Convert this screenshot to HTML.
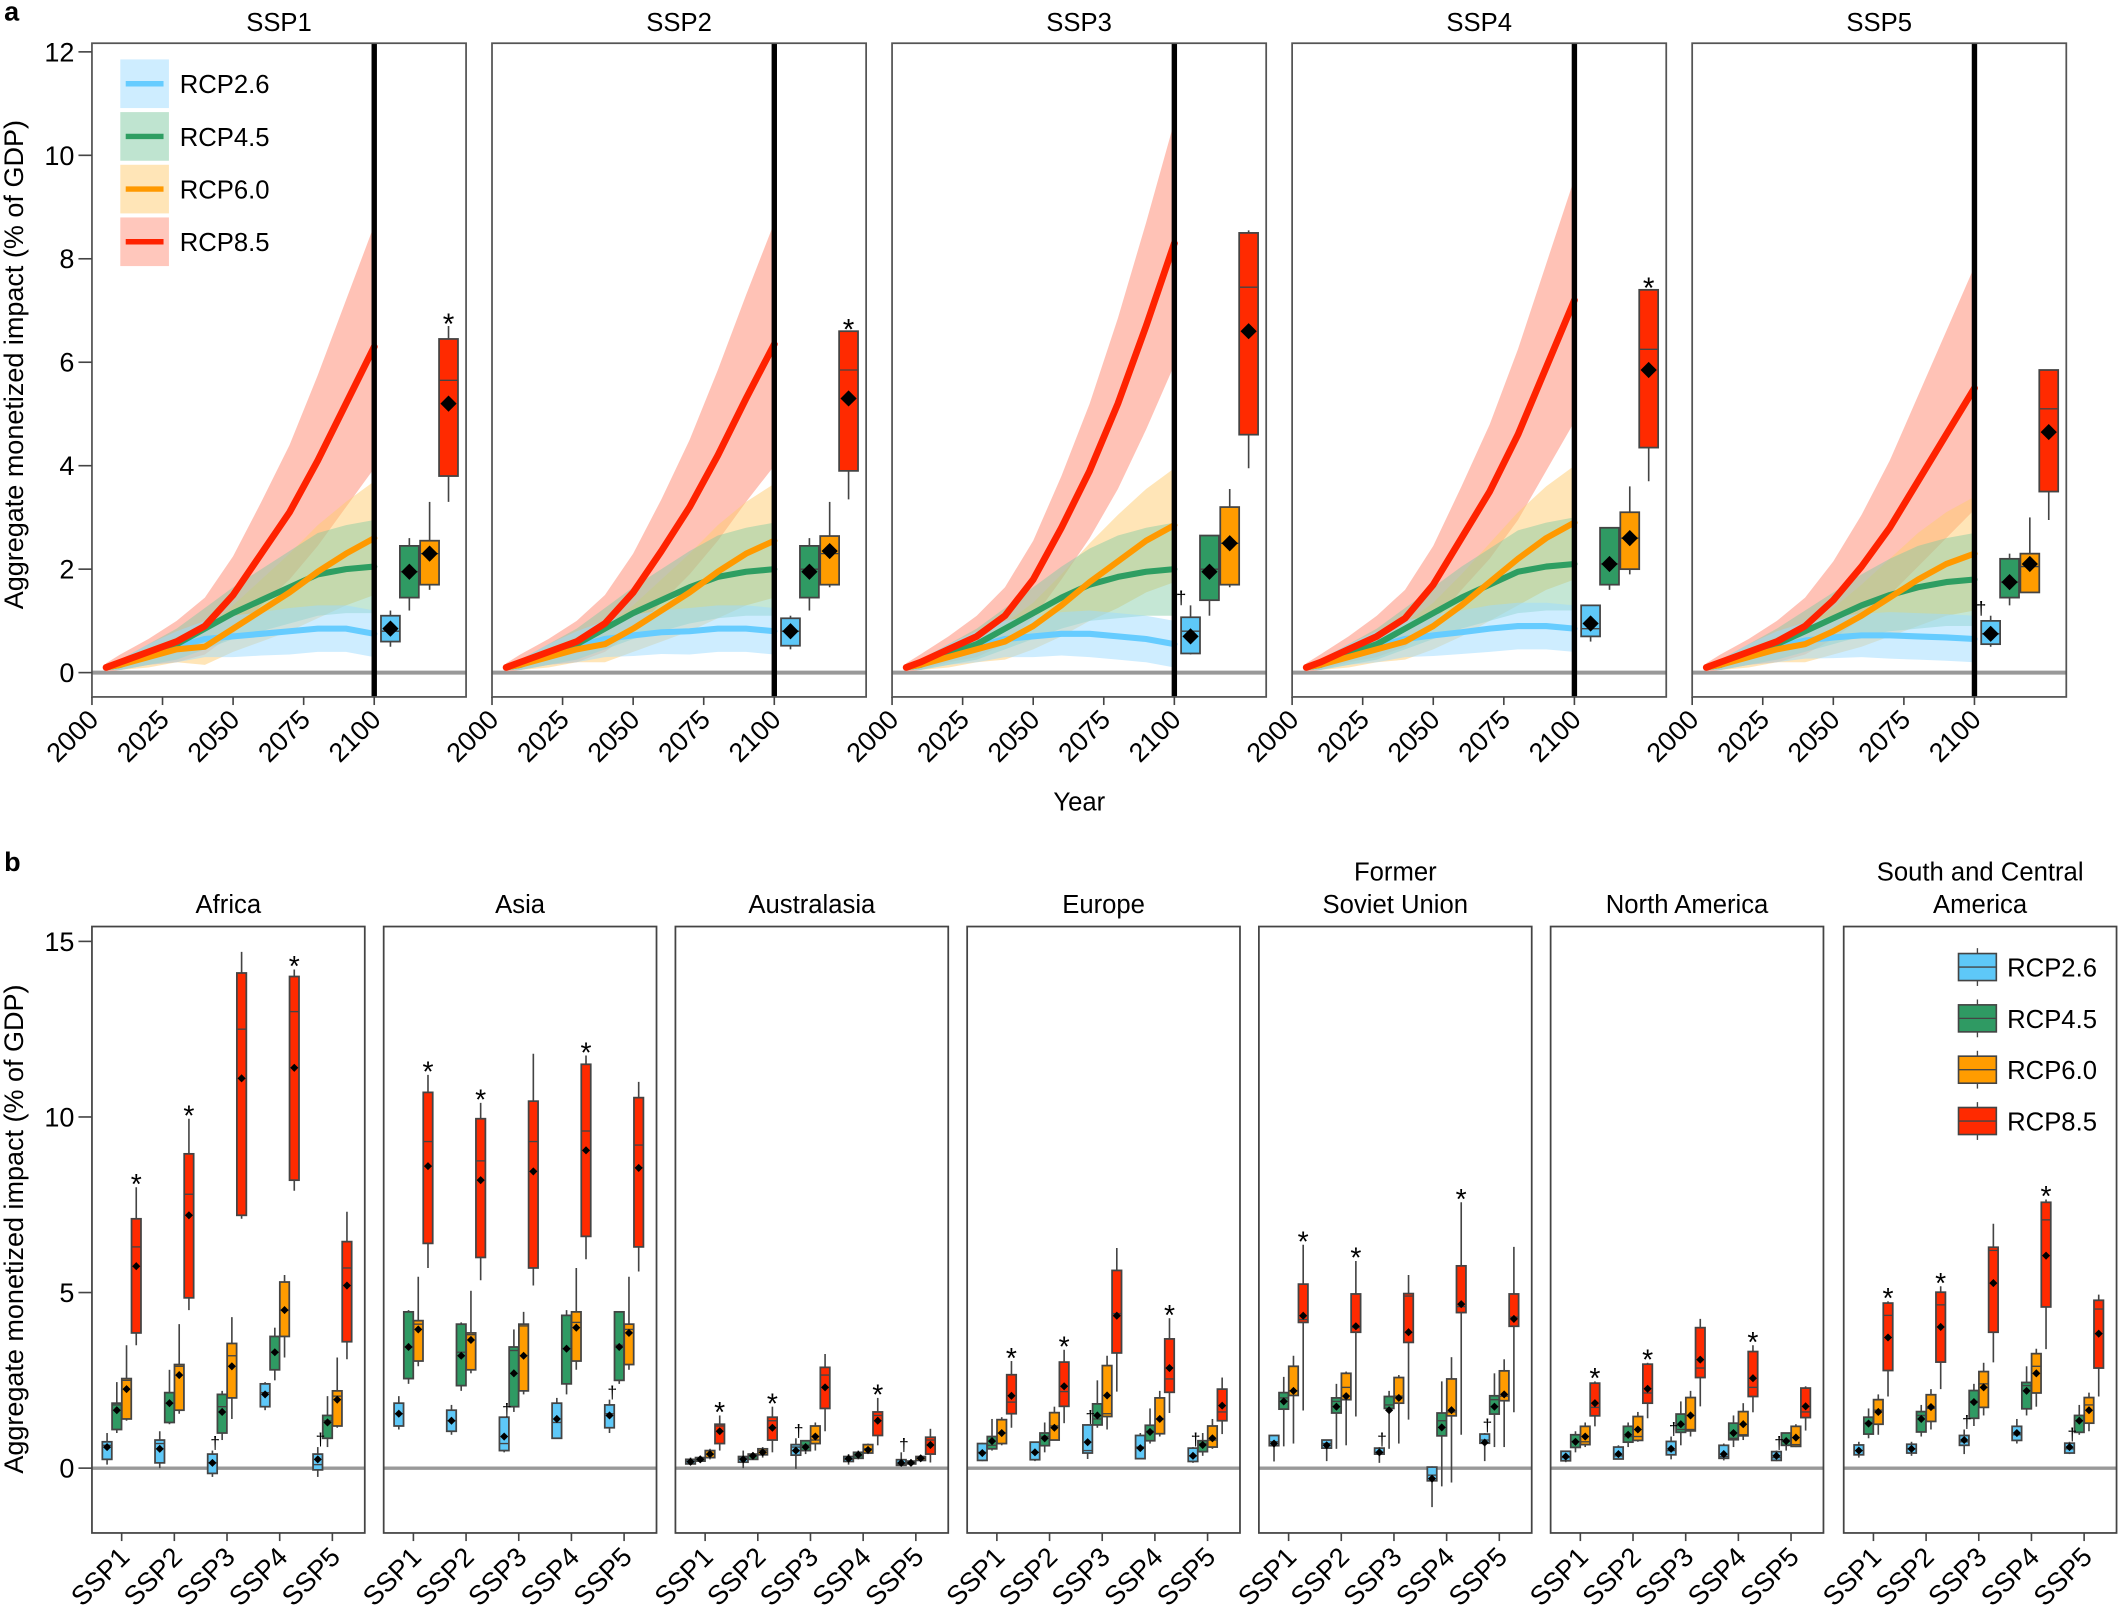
<!DOCTYPE html>
<html><head><meta charset="utf-8">
<style>
html,body{margin:0;padding:0;background:#fff;}
svg{display:block;font-family:"Liberation Sans",sans-serif;}
</style></head>
<body>
<svg id="chart" width="2118" height="1614" viewBox="0 0 1568 1195" xmlns="http://www.w3.org/2000/svg"></svg>
<script>
// ---------- DATA: panel a ----------
const sspNames = ["SSP1","SSP2","SSP3","SSP4","SSP5"];
const rcpNames = ["RCP2.6","RCP4.5","RCP6.0","RCP8.5"];
const years = [2005,2010,2020,2030,2040,2050,2060,2070,2080,2090,2100];
const meanSSP1 = [[0.1,0.15,0.35,0.5,0.65,0.7,0.75,0.8,0.85,0.85,0.75],[0.1,0.15,0.35,0.55,0.85,1.15,1.4,1.65,1.9,2.0,2.05],[0.1,0.15,0.3,0.45,0.5,0.85,1.2,1.55,1.95,2.3,2.6],[0.1,0.2,0.4,0.6,0.9,1.5,2.3,3.1,4.1,5.2,6.3]];
const meanSSP2 = [[0.1,0.15,0.35,0.5,0.65,0.72,0.78,0.8,0.85,0.85,0.8],[0.1,0.15,0.35,0.55,0.85,1.15,1.4,1.65,1.85,1.95,2.0],[0.1,0.15,0.3,0.45,0.55,0.85,1.2,1.55,1.95,2.3,2.55],[0.1,0.2,0.4,0.6,0.95,1.55,2.35,3.2,4.2,5.3,6.35]];
const meanSSP3 = [[0.1,0.15,0.35,0.5,0.65,0.7,0.75,0.75,0.7,0.65,0.55],[0.1,0.15,0.35,0.55,0.85,1.15,1.45,1.7,1.85,1.95,2.0],[0.1,0.15,0.3,0.45,0.6,0.9,1.3,1.75,2.15,2.55,2.85],[0.1,0.2,0.45,0.7,1.1,1.8,2.8,3.9,5.2,6.7,8.3]];
const meanSSP4 = [[0.1,0.15,0.35,0.5,0.65,0.72,0.78,0.85,0.9,0.9,0.85],[0.1,0.15,0.35,0.55,0.85,1.15,1.45,1.7,1.95,2.05,2.1],[0.1,0.15,0.3,0.45,0.6,0.9,1.3,1.75,2.2,2.6,2.9],[0.1,0.2,0.45,0.7,1.05,1.7,2.6,3.5,4.6,5.9,7.2]];
const meanSSP5 = [[0.1,0.15,0.35,0.5,0.62,0.68,0.72,0.72,0.7,0.68,0.65],[0.1,0.15,0.35,0.55,0.8,1.05,1.3,1.5,1.65,1.75,1.8],[0.1,0.15,0.3,0.45,0.55,0.8,1.1,1.45,1.8,2.1,2.3],[0.1,0.2,0.4,0.6,0.9,1.4,2.05,2.8,3.7,4.6,5.5]];
const meanSeries = [meanSSP1,meanSSP2,meanSSP3,meanSSP4,meanSSP5];
const spreadRCP26 = [0.05,0.1,0.2,0.3,0.35,0.4,0.42,0.45,0.45,0.45,0.45];
const spreadRCP45 = [0.05,0.1,0.2,0.3,0.4,0.5,0.6,0.7,0.8,0.85,0.9];
const spreadRCP60 = [0.05,0.1,0.2,0.25,0.35,0.45,0.6,0.75,0.9,1.0,1.1];
const spreadRCP85 = [0.08,0.15,0.25,0.4,0.55,0.75,1.0,1.3,1.65,2.0,2.35];
const spreads = [spreadRCP26,spreadRCP45,spreadRCP60,spreadRCP85];
const boxA_SSP1 = [[0.5,0.6,0.8,1.1,1.2,0.85],[1.2,1.45,1.95,2.45,2.6,1.95],[1.6,1.7,2.3,2.55,3.3,2.3],[3.3,3.8,5.65,6.45,6.7,5.2]];
const boxA_SSP2 = [[0.45,0.52,0.8,1.05,1.1,0.8],[1.2,1.45,2.0,2.45,2.6,1.95],[1.65,1.7,2.3,2.64,3.3,2.35],[3.35,3.9,5.85,6.6,6.6,5.3]];
const boxA_SSP3 = [[0.35,0.37,0.8,1.07,1.3,0.7],[1.1,1.4,2.0,2.65,2.65,1.95],[1.65,1.7,2.5,3.2,3.55,2.5],[3.95,4.6,7.45,8.5,8.55,6.6]];
const boxA_SSP4 = [[0.6,0.7,0.85,1.3,1.3,0.95],[1.6,1.7,2.1,2.8,2.8,2.1],[1.9,2.0,2.6,3.1,3.6,2.6],[3.7,4.35,6.25,7.4,7.4,5.85]];
const boxA_SSP5 = [[0.5,0.55,0.75,1.0,1.1,0.75],[1.3,1.45,1.75,2.2,2.3,1.75],[1.55,1.55,2.05,2.3,3.0,2.1],[2.95,3.5,5.1,5.85,5.85,4.65]];
const boxesA = [boxA_SSP1,boxA_SSP2,boxA_SSP3,boxA_SSP4,boxA_SSP5];
const starA = [true,true,false,true,false];
const daggerA = [false,false,true,false,true];
const yTicksA = [0,2,4,6,8,10,12];
const xTicksA = [2000,2025,2050,2075,2100];

// ---------- DATA: panel b ----------
const regionNames = [["Africa"],["Asia"],["Australasia"],["Europe"],["Former","Soviet Union"],["North America"],["South and Central","America"]];
const africa = [
 [[0.1,0.25,0.65,0.75,1.0,0.6],[1.0,1.1,1.8,1.85,2.45,1.65],[1.35,1.4,2.5,2.55,3.5,2.25],[3.5,3.85,6.3,7.1,8.0,5.75]],
 [[0,0.15,0.7,0.8,1.05,0.55],[1.25,1.3,1.85,2.15,2.8,1.85],[1.55,1.65,2.9,2.95,4.1,2.65],[4.5,4.85,7.8,8.95,9.95,7.2]],
 [[-0.25,-0.15,0.15,0.4,0.5,0.15],[0.8,1.0,1.75,2.1,2.2,1.6],[1.4,2.0,3.2,3.55,4.3,2.9],[7.1,7.2,12.5,14.1,14.7,11.1]],
 [[1.65,1.75,2.15,2.4,2.45,2.1],[2.5,2.8,3.3,3.75,4.0,3.3],[3.15,3.75,4.5,5.3,5.5,4.5],[7.9,8.2,13.0,14.0,14.2,11.4]],
 [[-0.25,-0.05,0.1,0.4,0.6,0.25],[0.6,0.85,1.35,1.5,2.05,1.3],[1.15,1.2,2.05,2.2,3.15,1.95],[3.1,3.6,5.7,6.45,7.3,5.2]]];
const asia = [
 [[1.1,1.2,1.55,1.85,2.05,1.55],[2.4,2.55,3.45,4.45,4.5,3.45],[2.9,3.05,4.1,4.2,5.45,3.95],[5.7,6.4,9.3,10.7,11.2,8.6]],
 [[0.95,1.05,1.35,1.65,1.8,1.35],[2.2,2.35,3.3,4.1,4.15,3.2],[2.7,2.8,3.8,3.85,5.05,3.65],[5.35,6.0,8.75,9.95,10.4,8.2]],
 [[0.45,0.5,0.7,1.45,1.45,0.9],[1.6,1.75,3.35,3.45,3.95,2.7],[2.1,2.2,4.05,4.1,4.45,3.2],[5.2,5.7,9.3,10.45,11.8,8.45]],
 [[0.85,0.85,1.3,1.85,2.0,1.4],[2.1,2.4,3.4,4.35,4.5,3.4],[2.8,3.05,4.15,4.45,5.7,4.0],[5.95,6.6,9.6,11.5,11.75,9.05]],
 [[1.0,1.15,1.55,1.8,1.95,1.5],[2.4,2.5,3.5,4.45,4.45,3.45],[2.8,2.95,3.95,4.1,5.45,3.85],[5.6,6.3,9.2,10.55,11.0,8.55]]];
const australasia = [
 [[0.1,0.12,0.2,0.25,0.3,0.18],[0.2,0.2,0.25,0.3,0.35,0.25],[0.25,0.3,0.4,0.5,0.55,0.4],[0.5,0.7,1.2,1.25,1.5,1.05]],
 [[0.0,0.17,0.28,0.33,0.5,0.25],[0.25,0.25,0.35,0.4,0.45,0.35],[0.3,0.38,0.5,0.55,0.6,0.45],[0.45,0.8,1.35,1.45,1.75,1.15]],
 [[-0.02,0.37,0.6,0.67,0.85,0.5],[0.4,0.5,0.65,0.78,0.8,0.6],[0.5,0.7,0.8,1.2,1.3,0.9],[1.05,1.7,2.65,2.87,3.25,2.3]],
 [[0.1,0.19,0.25,0.33,0.4,0.27],[0.25,0.28,0.35,0.45,0.5,0.38],[0.4,0.43,0.55,0.67,0.7,0.52],[0.65,0.93,1.5,1.6,2.0,1.35]],
 [[0.05,0.08,0.12,0.24,0.45,0.15],[0.1,0.12,0.15,0.2,0.25,0.15],[0.2,0.22,0.28,0.33,0.35,0.28],[0.16,0.4,0.8,0.88,1.12,0.66]]];
const europe = [
 [[0.2,0.22,0.45,0.7,0.72,0.43],[0.5,0.55,0.65,0.9,1.4,0.77],[0.65,0.7,1.0,1.38,1.45,1.0],[1.15,1.55,1.88,2.66,3.05,2.06]],
 [[0.2,0.24,0.45,0.74,0.75,0.45],[0.45,0.64,0.9,1.0,1.3,0.85],[0.8,0.8,1.2,1.58,1.75,1.15],[1.28,1.76,2.18,3.02,3.37,2.33]],
 [[0.26,0.43,0.5,1.23,1.25,0.74],[1.15,1.23,1.4,1.83,2.5,1.5],[1.1,1.47,1.55,2.92,3.2,2.07],[2.18,3.28,4.4,5.63,6.27,4.34]],
 [[0.25,0.27,0.6,0.93,1.0,0.57],[0.7,0.78,1.05,1.22,1.7,1.03],[0.9,0.98,1.4,2.0,2.2,1.4],[1.57,2.16,2.54,3.68,4.27,2.85]],
 [[0.15,0.19,0.35,0.57,0.6,0.35],[0.35,0.47,0.7,0.78,1.0,0.66],[0.55,0.6,0.8,1.2,1.4,0.85],[0.97,1.35,1.6,2.25,2.58,1.78]]];
const fsu = [
 [[0.19,0.64,0.75,0.93,0.93,0.7],[0.62,1.68,2.0,2.15,2.6,1.9],[0.7,2.07,2.2,2.9,3.2,2.2],[1.64,4.15,4.23,5.24,6.36,4.34]],
 [[0.2,0.57,0.7,0.8,0.8,0.65],[0.55,1.57,1.9,2.0,2.4,1.75],[0.65,1.95,2.3,2.7,2.75,2.05],[1.47,3.87,4.0,4.96,5.9,4.04]],
 [[0.15,0.4,0.45,0.57,0.6,0.45],[0.55,1.7,1.8,2.04,2.2,1.65],[0.7,1.85,2.05,2.58,2.65,2.0],[1.38,3.58,4.9,4.97,5.5,3.87]],
 [[-1.11,-0.36,-0.2,0.03,0.05,-0.3],[-0.52,0.92,1.35,1.57,2.47,1.16],[-0.41,1.49,1.6,2.54,3.16,1.65],[0.95,4.43,4.6,5.76,7.57,4.67]],
 [[0.2,0.71,0.8,0.97,1.0,0.73],[0.6,1.54,1.95,2.06,2.7,1.75],[0.6,1.92,2.05,2.77,3.1,2.1],[1.59,4.04,4.3,4.96,6.3,4.25]]];
const northAmerica = [
 [[0.17,0.21,0.3,0.48,0.5,0.33],[0.45,0.59,0.75,0.95,1.05,0.75],[0.6,0.67,0.75,1.19,1.3,0.9],[1.19,1.49,1.73,2.42,2.47,1.85]],
 [[0.25,0.26,0.35,0.6,0.65,0.4],[0.6,0.74,0.9,1.19,1.3,0.95],[0.75,0.79,0.9,1.47,1.6,1.1],[1.42,1.85,2.14,2.96,3.0,2.26]],
 [[0.25,0.38,0.5,0.76,0.9,0.55],[0.65,1.02,1.1,1.54,1.9,1.25],[0.9,1.06,1.1,2.01,2.2,1.5],[1.76,2.58,2.85,4.0,4.25,3.09]],
 [[0.22,0.28,0.33,0.65,0.7,0.4],[0.6,0.81,0.85,1.28,1.5,1.0],[0.8,0.92,0.95,1.61,1.85,1.25],[1.59,2.04,2.3,3.32,3.5,2.56]],
 [[0.2,0.22,0.3,0.47,0.5,0.35],[0.5,0.65,0.8,1.0,1.0,0.77],[0.6,0.62,0.67,1.19,1.25,0.87],[1.07,1.44,1.6,2.28,2.33,1.76]]];
const southCentralAmerica = [
 [[0.3,0.38,0.5,0.66,0.75,0.5],[0.85,0.97,1.3,1.45,1.7,1.27],[0.95,1.25,1.65,1.95,2.1,1.6],[2.04,2.78,4.35,4.7,4.75,3.72]],
 [[0.35,0.43,0.55,0.68,0.75,0.55],[0.9,1.03,1.5,1.61,1.8,1.4],[1.1,1.33,1.7,2.09,2.25,1.74],[2.25,3.02,4.65,5.01,5.18,4.02]],
 [[0.4,0.65,0.75,0.93,1.1,0.8],[1.2,1.42,1.9,2.21,2.4,1.88],[1.5,1.73,2.4,2.75,3.0,2.3],[3.01,3.87,6.2,6.29,6.96,5.27]],
 [[0.7,0.79,0.95,1.19,1.4,1.0],[1.5,1.69,2.35,2.44,2.9,2.2],[1.75,2.14,2.9,3.26,3.4,2.7],[3.39,4.59,7.07,7.57,7.65,6.05]],
 [[0.4,0.43,0.55,0.71,0.75,0.6],[0.95,1.02,1.35,1.5,1.8,1.35],[1.05,1.28,1.8,2.01,2.15,1.65],[2.04,2.85,4.53,4.78,4.94,3.83]]];
const regionBoxes = [africa,asia,australasia,europe,fsu,northAmerica,southCentralAmerica];
const starsB = [[1,1,0,1,0],[1,1,0,1,0],[1,1,0,1,0],[1,1,0,1,0],[1,1,0,1,0],[1,1,0,1,0],[1,1,0,1,0]];
const daggersB = [[0,0,1,0,1],[0,0,1,0,1],[0,0,1,0,1],[0,0,1,0,1],[0,0,1,0,1],[0,0,1,0,1],[0,0,1,0,1]];
const yTicksB = [0,5,10,15];

// ---------- DRAW ----------
const NS="http://www.w3.org/2000/svg";
const svg=document.getElementById('chart');
function mk(tag,attrs,parent,text){const e=document.createElementNS(NS,tag);for(const k in attrs)e.setAttribute(k,attrs[k]);if(text!==undefined)e.textContent=text;(parent||svg).appendChild(e);return e;}
const boxFill=["#5ec8f8","#2f9a63","#ff9c00","#ff2a00"];
const lineCol=["#66ccff","#2e9e62","#ff9900","#ff2200"];
const bandCol=["#9edcff","#7fc9a2","#ffcb70","#ff8f7a"];
const bandOp=[0.5,0.45,0.5,0.55];

let t;
t=mk('text',{x:3,y:15,'font-size':20,'font-weight':'bold'},svg,'a');

t=mk('text',{x:3,y:645,'font-size':20,'font-weight':'bold'},svg,'b');


const aTop=32,aBot=516,aW=277;
const yA=v=>498-38.3*v;
function drawBox(g,cx,w,b,col,sw){
  const [lo,q1,med,q3,hi,mean]=b.map(sw.y);
  let e=mk('line',{x1:cx,x2:cx,y1:hi,y2:lo,stroke:'#444','stroke-width':1.2},g);
  
  e=mk('rect',{x:cx-w/2,y:q3,width:w,height:Math.max(q1-q3,1),fill:col,stroke:'#444','stroke-width':1.3},g);
  
  e=mk('line',{x1:cx-w/2,x2:cx+w/2,y1:med,y2:med,stroke:'#444','stroke-width':1},g);
  
  const d=sw.d;
  e=mk('path',{d:`M${cx-d},${mean}L${cx},${mean-d}L${cx+d},${mean}L${cx},${mean+d}Z`,fill:'#000'},g);
  
  return hi;
}
sspNames.forEach((name,s)=>{
  const L=68+s*296.2, R=L+aW;
  const g=mk('g',{});
  const xA=yr=>L+(yr-2000)*2.09;
  t=mk('text',{x:L+aW/2,y:23,'font-size':19,'text-anchor':'middle'},g,name);
  
  let e=mk('line',{x1:L,x2:R,y1:yA(0),y2:yA(0),stroke:'#999','stroke-width':3},g);
  
  [3,2,1,0].forEach(r=>{
    const m=meanSeries[s][r],sp=spreads[r];
    let d='M'+years.map((y,i)=>xA(y)+','+yA(m[i]+sp[i])).join('L');
    d+='L'+years.slice().reverse().map((y,j)=>{const i=years.length-1-j;return xA(y)+','+yA(m[i]-sp[i]);}).join('L')+'Z';
    const p=mk('path',{d:d,fill:bandCol[r],'fill-opacity':bandOp[r]},g);
    
  });
  [0,1,2,3].forEach(r=>{
    const m=meanSeries[s][r];
    const p=mk('polyline',{points:years.map((y,i)=>xA(y)+','+yA(m[i])).join(' '),fill:'none',stroke:lineCol[r],'stroke-width':r==3?5:4.5,'stroke-linejoin':'round','stroke-linecap':'round'},g);
    
  });
  e=mk('line',{x1:xA(2100),x2:xA(2100),y1:aTop,y2:aBot,stroke:'#000','stroke-width':4},g);
  
  const offs=[12,26,41,55];let hiR,hiB;
  boxesA[s].forEach((b,r)=>{const h=drawBox(g,xA(2100)+offs[r],14,b,boxFill[r],{y:yA,d:6});if(r==3)hiR=h;if(r==0)hiB=h;});
  if(starA[s]){t=mk('text',{x:xA(2100)+offs[3],y:hiR+6,'font-size':22,'text-anchor':'middle'},g,'*');}
  if(daggerA[s]){t=mk('text',{x:xA(2100)+offs[0]-7,y:hiB-1,'font-size':14,'text-anchor':'middle'},g,'†');}
  e=mk('rect',{x:L,y:aTop,width:aW,height:aBot-aTop,fill:'none',stroke:'#555','stroke-width':1.3},g);
  
  xTicksA.forEach(yr=>{
    const x=xA(yr);
    let tk=mk('line',{x1:x,x2:x,y1:aBot,y2:aBot+6,stroke:'#444','stroke-width':1.2},g);
    
    const tl=mk('text',{x:x+6,y:aBot+18,'font-size':20,'text-anchor':'end',transform:`rotate(-45 ${x+6} ${aBot+18})`},g,String(yr));
    
  });
});
yTicksA.forEach(v=>{
  let e=mk('line',{x1:58,x2:68,y1:yA(v),y2:yA(v),stroke:'#444','stroke-width':1.2});
  
  t=mk('text',{x:55,y:yA(v)+7,'font-size':20,'text-anchor':'end'},svg,String(v));
  
});
t=mk('text',{x:0,y:0,'font-size':20,'text-anchor':'middle',transform:'translate(17 270) rotate(-90)'},svg,'Aggregate monetized impact (% of GDP)');

t=mk('text',{x:799,y:600,'font-size':19,'text-anchor':'middle'},svg,'Year');

const legA=mk('g',{});
rcpNames.forEach((n,r)=>{
  const cy=62+r*39;
  const eg=mk('g',{},legA);
  let e=mk('rect',{x:89,y:cy-18,width:36,height:36,fill:bandCol[r],'fill-opacity':0.5},eg);
  
  e=mk('line',{x1:93,x2:121,y1:cy,y2:cy,stroke:lineCol[r],'stroke-width':4},eg);
  
  t=mk('text',{x:133,y:cy+7,'font-size':19},eg,n);
  
});

const bTop=686,bBot=1135,bW=202;
const yB=v=>1087-26*v;
const lefts=[68,284,500,716,932,1148,1365];
regionNames.forEach((lines,k)=>{
  const L=lefts[k],R=L+bW;
  const g=mk('g',{});
  lines.forEach((ln,i)=>{
    const yy=lines.length==1?676:652+i*24;
    t=mk('text',{x:L+bW/2,y:yy,'font-size':19,'text-anchor':'middle'},g,ln);
    
  });
  let e=mk('line',{x1:L,x2:R,y1:yB(0),y2:yB(0),stroke:'#999','stroke-width':2.5},g);
  
  const offs=[-10.8,-3.6,3.6,10.8];
  regionBoxes[k].forEach((grp,s)=>{
    const cx=L+22+39*s;let hiR,hiB;
    grp.forEach((b,r)=>{const h=drawBox(g,cx+offs[r],7,b,boxFill[r],{y:yB,d:3});if(r==3)hiR=h;if(r==0)hiB=h;});
    if(starsB[k][s]){t=mk('text',{x:cx+offs[3],y:hiR+5,'font-size':21,'text-anchor':'middle'},g,'*');}
    if(daggersB[k][s]){t=mk('text',{x:cx+offs[0]+2,y:hiB-1,'font-size':13,'text-anchor':'middle'},g,'†');}
    let tk=mk('line',{x1:cx,x2:cx,y1:bBot,y2:bBot+6,stroke:'#444','stroke-width':1.2},g);
    
    const tl=mk('text',{x:cx+7,y:bBot+19,'font-size':20,'text-anchor':'end',transform:`rotate(-45 ${cx+7} ${bBot+19})`},g,sspNames[s]);
    
  });
  e=mk('rect',{x:L,y:bTop,width:bW,height:bBot-bTop,fill:'none',stroke:'#444','stroke-width':1.3},g);
  
});
yTicksB.forEach(v=>{
  let e=mk('line',{x1:58,x2:68,y1:yB(v),y2:yB(v),stroke:'#444','stroke-width':1.2});
  
  t=mk('text',{x:55,y:yB(v)+7,'font-size':20,'text-anchor':'end'},svg,String(v));
  
});
t=mk('text',{x:0,y:0,'font-size':20,'text-anchor':'middle',transform:'translate(17 910) rotate(-90)'},svg,'Aggregate monetized impact (% of GDP)');

const legB=mk('g',{});
rcpNames.forEach((n,r)=>{
  const cy=716+r*38;
  const eg=mk('g',{},legB);
  let e=mk('line',{x1:1464,x2:1464,y1:cy-14,y2:cy+14,stroke:'#444','stroke-width':1},eg);
  
  e=mk('rect',{x:1450,y:cy-10,width:28,height:20,fill:boxFill[r],stroke:'#444','stroke-width':1.2},eg);
  
  e=mk('line',{x1:1450,x2:1478,y1:cy,y2:cy,stroke:'#444','stroke-width':1},eg);
  
  t=mk('text',{x:1486,y:cy+7,'font-size':19},eg,n);
  
});
</script>
</body></html>
